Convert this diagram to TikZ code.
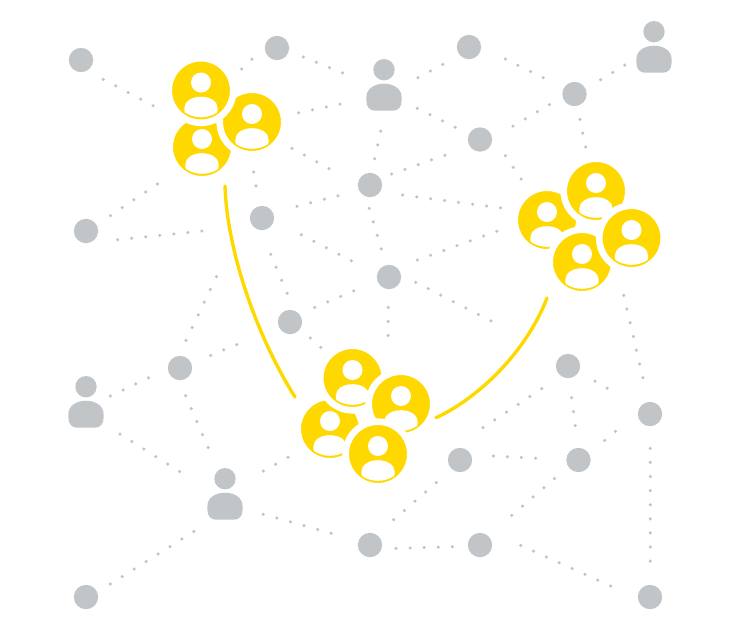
\documentclass[tikz,border=0pt]{standalone}
\usepackage{xcolor}
\usepackage{tikz}
\usetikzlibrary{calc}
\definecolor{hubyellow}{HTML}{FFD800}
\definecolor{netgray}{HTML}{C1C5C8}
\tikzstyle{graydot}=[circle, fill=netgray, inner sep=0pt, minimum size=24.4pt]
\tikzstyle{user}=[rectangle, inner sep=0pt, minimum width=35.2pt, minimum height=51.8pt, path picture={
    \begin{scope}[shift={(path picture bounding box.center)}]
        \fill [netgray] (0, -15.3) circle [radius=10.7pt];
        \fill [netgray] (0, -1.3) .. controls (10.5, -1.3) and (17.6, 4.5) .. (17.6, 12)
            -- (17.6, 16) .. controls (17.6, 22) and (14, 25.7) .. (9, 25.7) -- (-9, 25.7)
            .. controls (-14, 25.7) and (-17.6, 22) .. (-17.6, 16) -- (-17.6, 12)
            .. controls (-17.6, 4.5) and (-10.5, -1.3) .. (0, -1.3);
    \end{scope}}]
\tikzstyle{avatar}=[circle, fill=hubyellow, draw=white, line width=6.6pt, inner sep=0pt, minimum size=64.6pt, path picture={
    \begin{scope}[shift={(path picture bounding box.center)}]
        \fill [white] (0, -8) circle [radius=10pt];
        \fill [white] (0, 6.2) .. controls (9.5, 6.2) and (16.7, 11) .. (16.7, 18)
            .. controls (16.7, 19.5) and (16.5, 21) .. (16, 22)
            .. controls (11, 25.3) and (5.5, 26.8) .. (0, 26.8)
            .. controls (-5.5, 26.8) and (-11, 25.3) .. (-16, 22)
            .. controls (-16.5, 21) and (-16.7, 19.5) .. (-16.7, 18)
            .. controls (-16.7, 11) and (-9.5, 6.2) .. (0, 6.2);
    \end{scope}}]
\tikzstyle{dots}=[netgray, line width=3.5pt, line cap=round, dash pattern=on 0pt off 14.1pt]
\tikzstyle{swoop}=[hubyellow, line width=3.4pt, line cap=round]

\begin{document}
\begin{tikzpicture}[x=1pt, y=-1pt]
    \useasboundingbox (0, 0) rectangle (740, 630);
    % plain members
    \node (dotA) [graydot] at (81, 60) {};
    \node (dotB) [graydot] at (277, 48) {};
    \node (dotC) [graydot] at (469, 47) {};
    \node (dotD) [graydot] at (574.5, 94) {};
    \node (dotE) [graydot] at (480, 139.5) {};
    \node (dotF) [graydot] at (370, 185) {};
    \node (dotG) [graydot] at (262, 218) {};
    \node (dotH) [graydot] at (86, 231) {};
    \node (dotI) [graydot] at (389, 277) {};
    \node (dotJ) [graydot] at (290, 322) {};
    \node (dotK) [graydot] at (180, 368) {};
    \node (dotL) [graydot] at (568, 366) {};
    \node (dotM) [graydot] at (650, 414) {};
    \node (dotN) [graydot] at (460, 460) {};
    \node (dotO) [graydot] at (578.5, 460) {};
    \node (dotP) [graydot] at (370, 545) {};
    \node (dotQ) [graydot] at (480, 545) {};
    \node (dotR) [graydot] at (86, 597) {};
    \node (dotS) [graydot] at (650, 597) {};
    \node (userA) [user] at (384, 85) {};
    \node (userB) [user] at (654, 47) {};
    \node (userC) [user] at (86, 402) {};
    \node (userD) [user] at (225, 494) {};
    % yellow groups, back to front
    \node (hubA3) [avatar] at (202, 147) {};
    \node (hubA2) [avatar] at (252, 122) {};
    \node (hubA1) [avatar] at (201, 90.5) {};
    \node (hubB1) [avatar] at (330, 429) {};
    \node (hubB2) [avatar] at (352.5, 378) {};
    \node (hubB3) [avatar] at (401, 404) {};
    \node (hubB4) [avatar] at (378, 454) {};
    \node (hubC1) [avatar] at (547, 220) {};
    \node (hubC2) [avatar] at (596, 191) {};
    \node (hubC4) [avatar] at (582, 262) {};
    \node (hubC3) [avatar] at (631.5, 238) {};
    % dotted links
    \draw [dots] ([shift={(22.3, 19.3)}]dotA.center) -- ([shift={(-47.3, 15.5)}]hubA1.center);
    \draw [dots] ([shift={(40.7, -21.5)}]hubA1.center) -- ([shift={(-25, 11)}]dotB.center);
    \draw [dots] ([shift={(26.3, 9)}]dotB.center) -- ([shift={(-40, -11.5)}]userA.center);
    \draw [dots] ([shift={(46.7, -9.3)}]hubA2.center) -- ([shift={(-43.3, 19)}]userA.center);
    \draw [dots] ([shift={(40, 26.3)}]hubA2.center) -- ([shift={(-40.3, -16)}]dotF.center);
    \draw [dots] ([shift={(-44.7, 37)}]hubA3.center) -- ([shift={(24.3, -15.3)}]dotH.center);
    \draw [dots] ([shift={(31.7, 8.7)}]dotH.center) -- ([shift={(-59.3, 13)}]dotG.center);
    \draw [dots] ([shift={(51.7, 25)}]hubA3.center) -- ([shift={(-6, -32)}]dotG.center);
    \draw [dots] ([shift={(35, -11.7)}]dotG.center) -- ([shift={(-31.7, 10.7)}]dotF.center);
    \draw [dots] ([shift={(4.7, -26.3)}]dotF.center) -- ([shift={(-3.3, 46)}]userA.center);
    \draw [dots] ([shift={(21.7, -11)}]dotF.center) -- ([shift={(-34.7, 15.5)}]dotE.center);
    \draw [dots] ([shift={(33.3, 23.3)}]userA.center) -- ([shift={(-24.7, -12.2)}]dotE.center);
    \draw [dots] ([shift={(34, -7.3)}]userA.center) -- ([shift={(-26, 17.3)}]dotC.center);
    \draw [dots] ([shift={(36.3, 12)}]dotC.center) -- ([shift={(-31.2, -16.3)}]dotD.center);
    \draw [dots] ([shift={(33, -13.5)}]dotE.center) -- ([shift={(-24.5, 10.3)}]dotD.center);
    \draw [dots] ([shift={(26.2, -14.3)}]dotD.center) -- ([shift={(-29, 18)}]userB.center);
    \draw [dots] ([shift={(5.5, 25.3)}]dotD.center) -- ([shift={(-10.3, -43.7)}]hubC2.center);
    \draw [dots] ([shift={(25.3, 16.2)}]dotE.center) -- ([shift={(-25.7, -40.7)}]hubC1.center);
    \draw [dots] ([shift={(32.7, 10)}]dotF.center) -- ([shift={(-45.7, -12)}]hubC1.center);
    \draw [dots] ([shift={(-0.7, 23.3)}]dotF.center) -- ([shift={(-7.7, -27.7)}]dotI.center);
    \draw [dots] ([shift={(39.3, 16.7)}]dotG.center) -- ([shift={(-37.3, -16)}]dotI.center);
    \draw [dots] ([shift={(28.3, -17)}]dotI.center) -- ([shift={(-49.3, 11)}]hubC1.center);
    \draw [dots] ([shift={(26.7, 5.3)}]dotI.center) -- ([shift={(-76.3, -44.7)}]dotL.center);
    \draw [dots] ([shift={(8.7, 36.3)}]dotG.center) -- ([shift={(-2.7, -28.3)}]dotJ.center);
    \draw [dots] ([shift={(24.7, -14.7)}]dotJ.center) -- ([shift={(-34.7, 13.7)}]dotI.center);
    \draw [dots] ([shift={(-0.7, 30.3)}]dotI.center) -- ([shift={(35.5, -42.3)}]hubB2.center);
    \draw [dots] ([shift={(20.3, 16)}]dotJ.center) -- ([shift={(-31.6, -30.5)}]hubB2.center);
    \draw [dots] ([shift={(30.7, -12.7)}]dotK.center) -- ([shift={(-52.7, 22.3)}]dotJ.center);
    \draw [dots] ([shift={(6, -27.7)}]dotK.center) -- ([shift={(-45.3, 58.3)}]dotG.center);
    \draw [dots] ([shift={(24.3, -6)}]userC.center) -- ([shift={(-31, 9.7)}]dotK.center);
    \draw [dots] ([shift={(34, 32)}]userC.center) -- ([shift={(-44.7, -22)}]userD.center);
    \draw [dots] ([shift={(5.7, 27.7)}]dotK.center) -- ([shift={(-16.7, -46)}]userD.center);
    \draw [dots] ([shift={(38.3, -23)}]userD.center) -- ([shift={(-41.7, 28.3)}]hubB1.center);
    \draw [dots] ([shift={(38.3, 20.3)}]userD.center) -- ([shift={(-38, -11.5)}]dotP.center);
    \draw [dots] ([shift={(24.3, -13)}]dotR.center) -- ([shift={(-30.3, 37)}]userD.center);
    \draw [dots] ([shift={(23.7, -25.3)}]dotP.center) -- ([shift={(-23.3, 22.3)}]dotN.center);
    \draw [dots] ([shift={(33.3, -4)}]dotN.center) -- ([shift={(-42.5, -1.7)}]dotO.center);
    \draw [dots] ([shift={(26, 3.3)}]dotP.center) -- ([shift={(-27, 1.7)}]dotQ.center);
    \draw [dots] ([shift={(31.7, -29.7)}]dotQ.center) -- ([shift={(-23.5, 18.3)}]dotO.center);
    \draw [dots] ([shift={(40.7, 0.3)}]dotQ.center) -- ([shift={(-38.7, -10.7)}]dotS.center);
    \draw [dots] ([shift={(82, 23.7)}]hubB3.center) -- ([shift={(-25.7, 22.3)}]dotL.center);
    \draw [dots] ([shift={(3.7, 31.7)}]dotL.center) -- ([shift={(-3.2, -34)}]dotO.center);
    \draw [dots] ([shift={(27, 15)}]dotL.center) -- ([shift={(-30.7, -18.7)}]dotM.center);
    \draw [dots] ([shift={(26.2, -19.7)}]dotO.center) -- ([shift={(-34.3, 17.3)}]dotM.center);
    \draw [dots] ([shift={(0.3, 34.3)}]dotM.center) -- ([shift={(0.3, -35)}]dotS.center);
    \draw [dots] ([shift={(41.7, 33.3)}]hubC4.center) -- ([shift={(-7, -35.7)}]dotM.center);
    % yellow arcs
    \draw [swoop] ([shift={(23, 39)}]hubA3.center) .. controls (227, 250) and (256, 335) .. ([shift={(-35, -32)}]hubB1.center);
    \draw [swoop] ([shift={(35, 13.7)}]hubB3.center) .. controls (475, 400) and (525, 355) .. ([shift={(-35, 36)}]hubC4.center);
\end{tikzpicture}
\end{document}
